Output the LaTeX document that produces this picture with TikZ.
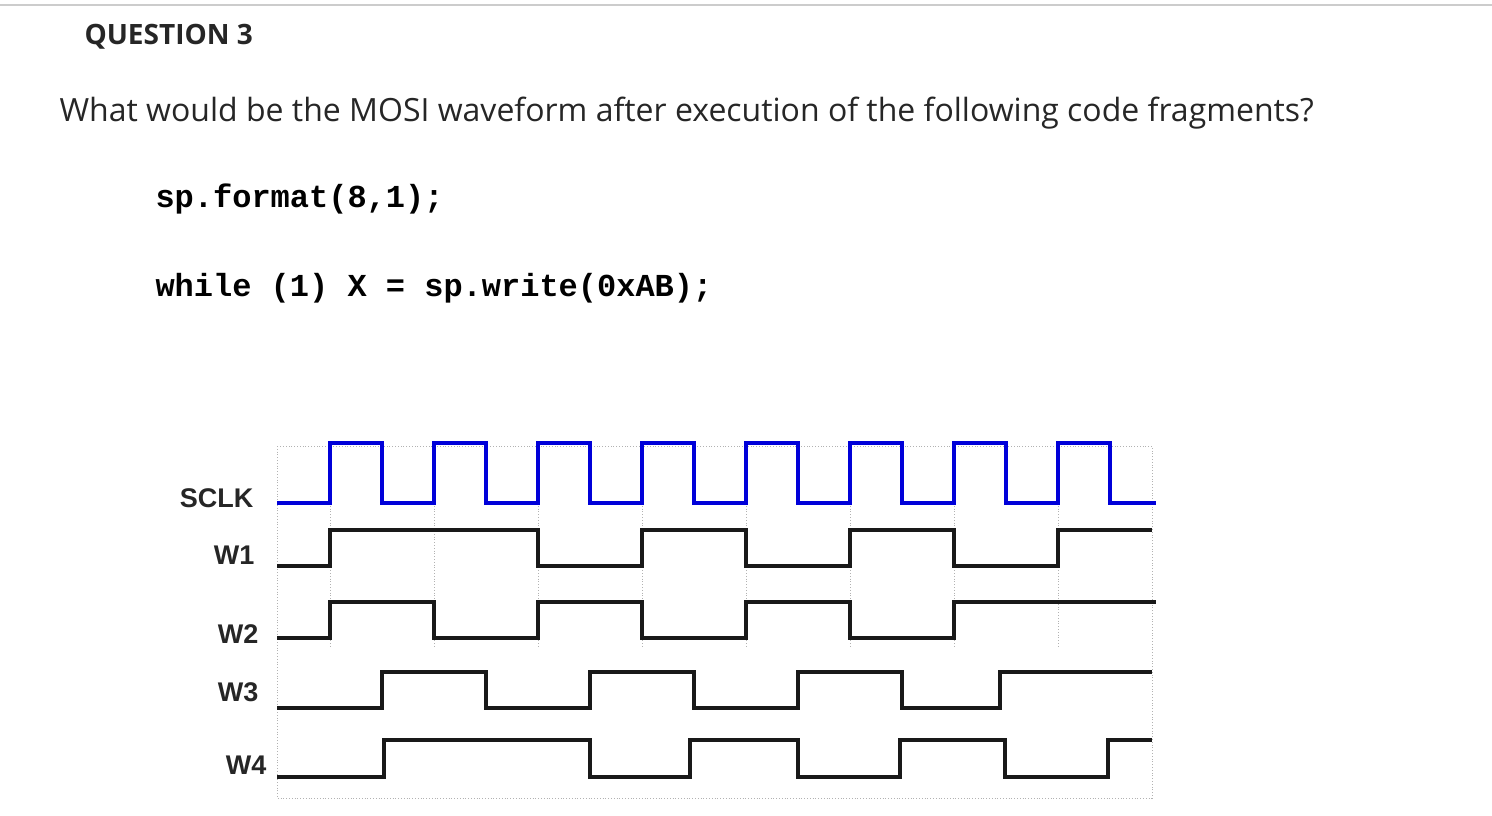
\documentclass[tikz,border=0pt]{standalone}
\usepackage{fontspec}
\setmainfont{Open Sans}
\newfontfamily\codefont{Liberation Mono}
\newfontfamily\labfont{Liberation Sans}
\begin{document}
\begin{tikzpicture}[x=1pt,y=-1pt,
  wave/.style={line width=3.4pt,black!90},
  clk/.style={line width=3.4pt,blue!85!black},
  lab/.style={font=\labfont\bfseries\fontsize{27}{27}\selectfont,anchor=east,text=black!85},
  guide/.style={gray!60,dotted,line width=0.8pt}]
\useasboundingbox (0,0) rectangle (1492,816);
\draw[gray!40,line width=1.5pt] (0,5) -- (1492,5);
\node[anchor=west,font=\bfseries\fontsize{28}{28}\selectfont,text=black!85] (q) at (81,37) {QUESTION 3};
\node[anchor=west,font=\fontsize{32}{32}\selectfont,text=black!85] (t) at (56,113) {What would be the MOSI waveform after execution of the following code fragments?};
\node[anchor=west,font=\codefont\bfseries\fontsize{32}{32}\selectfont] (c1) at (152,199) {sp.format(8,1);};
\node[anchor=west,font=\codefont\bfseries\fontsize{32}{32}\selectfont] (c2) at (152,288) {while (1) X = sp.write(0xAB);};
% frame
\draw[guide] (277,446) rectangle (1152,798);
\foreach \k in {0,...,7}{\draw[guide] ({330+104*\k},503) -- ({330+104*\k},647);}
% labels
\node[lab] (ls) at (257,498) {SCLK};
\node[lab] (l1) at (258,555) {W1};
\node[lab] (l2) at (262,634) {W2};
\node[lab] (l3) at (262,692) {W3};
\node[lab] (l4) at (270,765) {W4};
% SCLK
\draw[clk] (277,503)
  \foreach \k in {0,...,7}{ -- ({330+104*\k},503) -- ({330+104*\k},443) -- ({382+104*\k},443) -- ({382+104*\k},503)} -- (1156,503);
% W1 (H=530 L=566)
\draw[wave] (277,566) -- (330,566) -- (330,530) -- (538,530) -- (538,566) -- (642,566) -- (642,530) -- (746,530) -- (746,566) -- (850,566) -- (850,530) -- (954,530) -- (954,566) -- (1058,566) -- (1058,530) -- (1152,530);
% W2 (H=602 L=638)
\draw[wave] (277,638) -- (330,638) -- (330,602) -- (434,602) -- (434,638) -- (538,638) -- (538,602) -- (642,602) -- (642,638) -- (746,638) -- (746,602) -- (850,602) -- (850,638) -- (954,638) -- (954,602) -- (1156,602);
% W3 (H=672 L=708)
\draw[wave] (277,708) -- (382,708) -- (382,672) -- (486,672) -- (486,708) -- (590,708) -- (590,672) -- (694,672) -- (694,708) -- (798,708) -- (798,672) -- (902,672) -- (902,708) -- (1000,708) -- (1000,672) -- (1152,672);
% W4 (H=740 L=777)
\draw[wave] (277,777) -- (384,777) -- (384,740) -- (590,740) -- (590,777) -- (690,777) -- (690,740) -- (798,740) -- (798,777) -- (900,777) -- (900,740) -- (1005,740) -- (1005,777) -- (1108,777) -- (1108,740) -- (1152,740);
\end{tikzpicture}
\end{document}
